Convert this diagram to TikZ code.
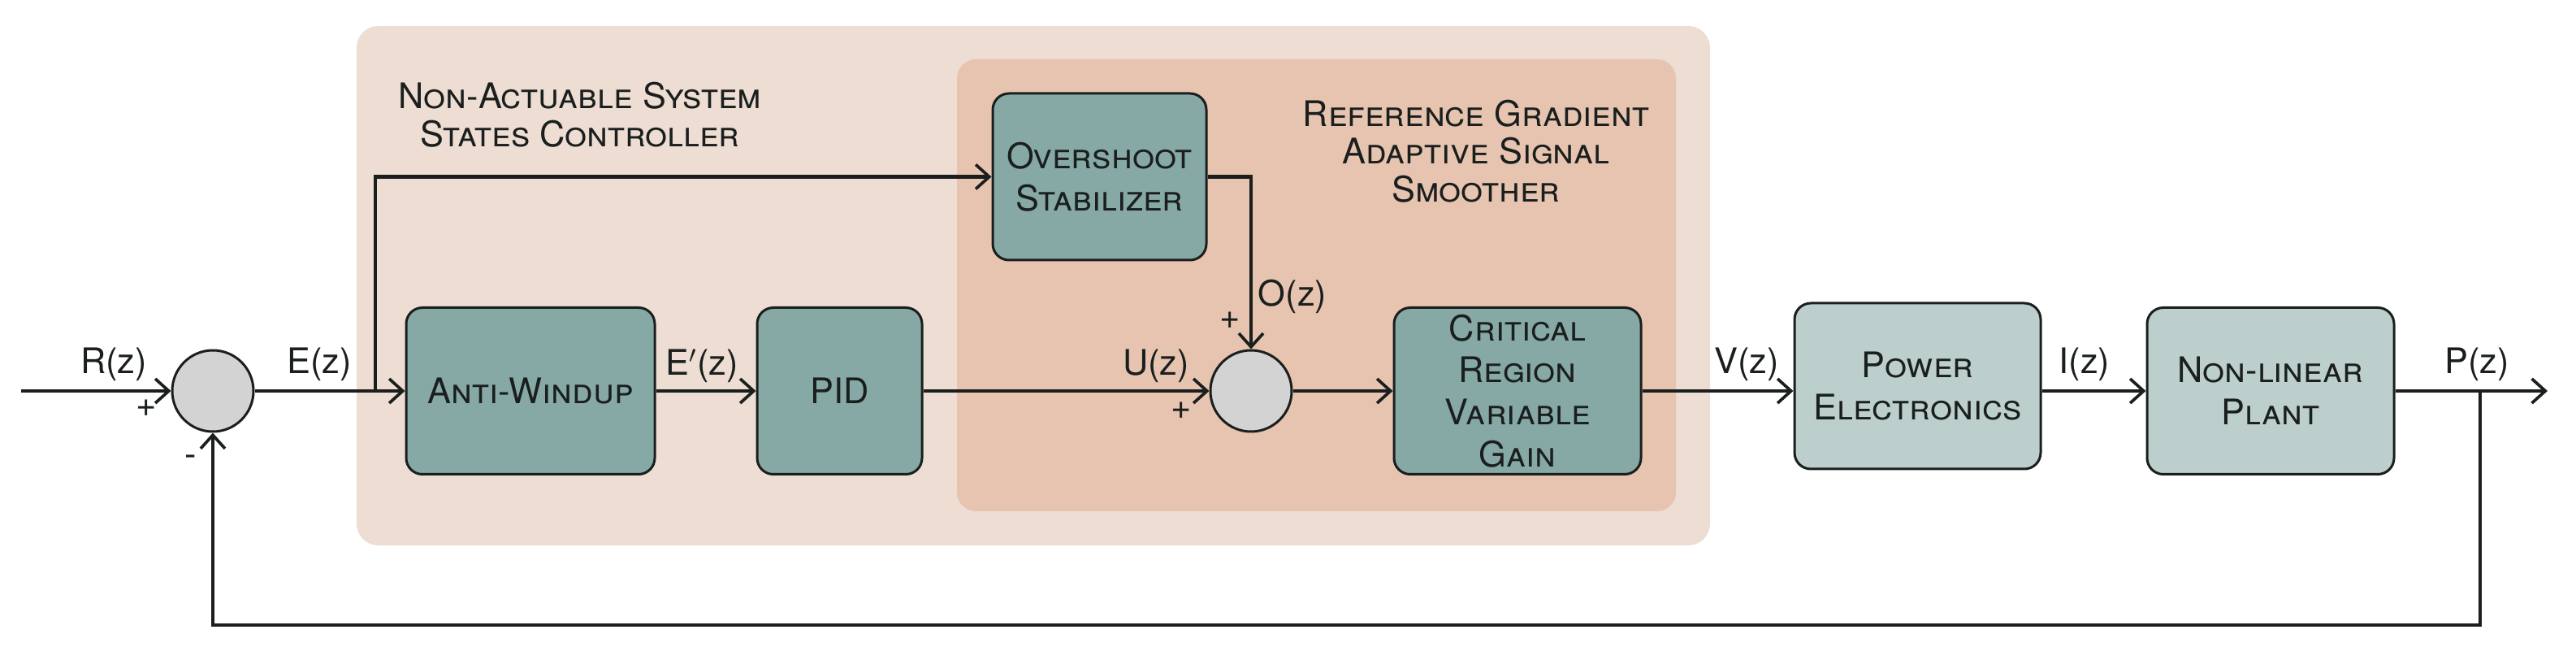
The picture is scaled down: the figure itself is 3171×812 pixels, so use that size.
\documentclass[tikz,border=0pt]{standalone}
\usepackage{fontspec}
\setmainfont{TeX Gyre Heros}
\usetikzlibrary{arrows.meta}
\definecolor{outerbg}{HTML}{EDDDD3}
\definecolor{innerbg}{HTML}{E6C4B0}
\definecolor{dark}{HTML}{86A9A6}
\definecolor{light}{HTML}{BCCFCD}
\definecolor{sumc}{HTML}{D3D3D3}
\definecolor{ink}{HTML}{1A1F1E}
\begin{document}
\begin{tikzpicture}[x=0.3pt,y=-0.3pt,
  every node/.style={font=\fontsize{13}{15.5}\selectfont, text=ink},
  box/.style={draw=ink, line width=0.9pt, rounded corners=6pt, align=center, minimum height=61.5pt, inner sep=2pt, font=\fontsize{13}{15.5}\selectfont\scshape},
  dbox/.style={box, fill=dark},
  lbox/.style={box, fill=light},
  sum/.style={circle, draw=ink, line width=0.9pt, fill=sumc, minimum size=30pt, inner sep=0pt},
  sig/.style={draw=ink, line width=1.3pt, -{Straight Barb[length=5pt,width=9pt,line width=1.1pt]}},
  wire/.style={draw=ink, line width=1.3pt},
  title/.style={align=center, font=\fontsize{13}{14}\selectfont\scshape}]
\useasboundingbox (0,0) rectangle (3171,812);
\fill[outerbg, rounded corners=8pt] (439,32) rectangle (2105,671);
\fill[innerbg, rounded corners=7pt] (1178,73) rectangle (2063,629);
\node[title] (t1) at (714,141) {Non-Actuable System\\States Controller};
\node[title] (t2) at (1817,186) {Reference Gradient\\Adaptive Signal\\Smoother};

\node[sum] (s1) at (262,481) {};
\node[sum] (s2) at (1540,481) {};
\node[dbox, minimum width=91.8pt] (aw) at (653,481) {Anti-Windup};
\node[dbox, minimum width=60.9pt] (pid) at (1033.5,481) {PID};
\node[dbox, minimum width=78.9pt] (os) at (1353.5,217.5) {Overshoot\\Stabilizer};
\node[dbox, minimum width=91.2pt] (cr) at (1868,481) {Critical\\Region\\Variable\\Gain};
\node[lbox, minimum width=90.9pt, minimum height=61.2pt] (pe) at (2360.5,475) {Power\\Electronics};
\node[lbox, minimum width=91.2pt] (pl) at (2795,481) {Non-linear\\Plant};

\coordinate (in) at (26,481);
\coordinate (br) at (462,481);
\coordinate (pb) at (3053,481);
\coordinate (out) at (3136,481);
\coordinate (fb) at (3053,769);

\draw[sig] (in) -- (s1.west);
\draw[sig] (s1.east) -- (aw.west);
\draw[sig] (br) |- (os.west);
\draw[sig] (aw.east) -- (pid.west);
\draw[sig] (pid.east) -- (s2.west);
\draw[sig] (os.east) -| (s2.north);
\draw[sig] (s2.east) -- (cr.west);
\draw[sig] (cr.east) -- (cr.east -| pe.west);
\draw[sig] (pe.east |- cr.east) -- (pe.east |- cr.east -| pl.west);
\draw[sig] (pl.east) -- (out);
\draw[sig] (pb) -- (fb) -| (s1.south);

\node (lr) at (140,448) {R(z)};
\node (le) at (393,448) {E(z)};
\node (lep) at (864,450) {E$'$(z)};
\node (lu) at (1423,450) {U(z)};
\node (lo) at (1591,365) {O(z)};
\node (lv) at (2150,448) {V(z)};
\node (li) at (2566,448) {I(z)};
\node (lp) at (3049,448) {P(z)};
\node (p1) at (180,502) {+};
\node (m1) at (235,567) {-};
\node (p2) at (1454,505) {+};
\node (p3) at (1514,394) {+};
\end{tikzpicture}
\end{document}
